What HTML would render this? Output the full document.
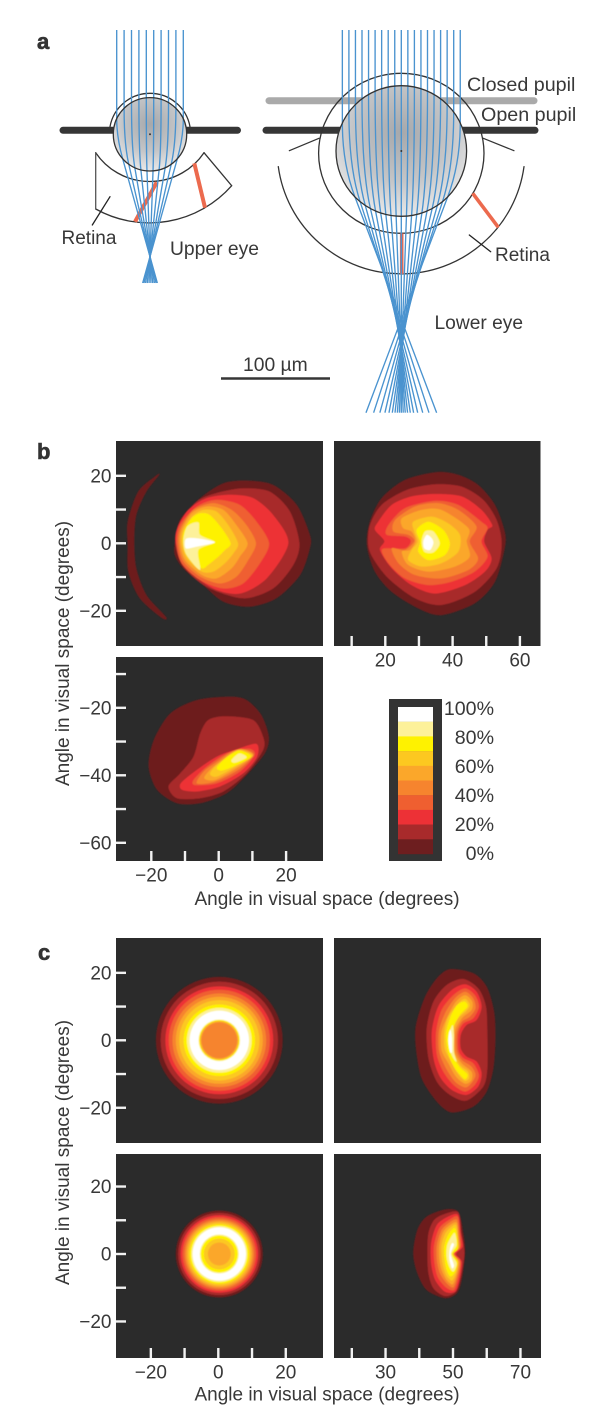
<!DOCTYPE html>
<html lang="en">
<head>
<meta charset="utf-8">
<title>Visual fields of upper and lower eyes</title>
<style>
html,body{margin:0;padding:0;background:#fff;}
svg{display:block;}
text{font-family:"Liberation Sans",sans-serif;fill:#383838;font-size:19px;}
.letter{font-weight:bold;font-size:22px;fill:#333;stroke:#333;stroke-width:.6px;}
</style>
</head>
<body>
<svg id="figure" xmlns="http://www.w3.org/2000/svg" width="600" height="1428" viewBox="0 0 600 1428">
<defs>
<radialGradient id="lensShade" cx="0.5" cy="0.36" r="0.68">
<stop offset="0" stop-color="#a6a8ab"/>
<stop offset="0.55" stop-color="#c4c5c7"/>
<stop offset="1" stop-color="#eeeeee"/>
</radialGradient>
<filter id="soft" x="-5%" y="-5%" width="110%" height="110%"><feGaussianBlur stdDeviation="0.55"/></filter>
</defs>

<text class="letter" x="37" y="49">a</text>
<text class="letter" x="37" y="459">b</text>
<text class="letter" x="38" y="960">c</text>

<g id="eye-diagram" fill="none" stroke-linecap="round">
  <line x1="63" y1="130.3" x2="237.5" y2="130.3" stroke="#363636" stroke-width="7"/>
  <line x1="269" y1="100.7" x2="534" y2="100.7" stroke="#aaaaaa" stroke-width="7"/>
  <line x1="266" y1="130.3" x2="535" y2="130.3" stroke="#363636" stroke-width="7"/>

  <path d="M110 126.7A40.66 40.66 0 0 1 190 126.7" stroke="#333" stroke-width="1.3"/>
  <path d="M95.7 152.7A65.3 65.3 0 0 0 204 152.7" stroke="#333" stroke-width="1.3"/>
  <path d="M95.7 209A110 110 0 0 0 231.7 185.7L204 152.7" stroke="#333" stroke-width="1.3"/>
  <line x1="95.7" y1="152.7" x2="95.7" y2="209" stroke="#555" stroke-width="1.3"/>
  <line x1="194.3" y1="163.3" x2="205" y2="207.7" stroke="#ec6a4e" stroke-width="4" stroke-linecap="butt"/>
  <line x1="156.7" y1="182.3" x2="135" y2="221.7" stroke="#ec6a4e" stroke-width="4" stroke-linecap="butt"/>
  <line x1="110" y1="196.7" x2="92.3" y2="225" stroke="#222" stroke-width="1.3"/>
  <circle cx="150" cy="134.3" r="36.7" fill="url(#lensShade)"/>

  <ellipse cx="401.3" cy="153.3" rx="82.7" ry="80" stroke="#333" stroke-width="1.3"/>
  <path d="M319 138.3L289.3 150.7M483.3 138.3L514 150.7" stroke="#333" stroke-width="1.2"/>
  <path d="M278.3 166.7A124 124 0 0 0 524 166.7" stroke="#333" stroke-width="1.3"/>
  <line x1="472.7" y1="193.3" x2="498.3" y2="227.3" stroke="#ec6a4e" stroke-width="3.6" stroke-linecap="butt"/>
  <line x1="401.7" y1="233.3" x2="401.7" y2="274" stroke="#dc6b5a" stroke-width="3.6" stroke-linecap="butt"/>
  <line x1="469.3" y1="235" x2="490.7" y2="251.7" stroke="#222" stroke-width="1.3"/>
  <circle cx="401.3" cy="151" r="65.3" fill="url(#lensShade)"/>

  <g id="rays"></g>

  <circle cx="150" cy="134.3" r="36.7" stroke="#333" stroke-width="1.3"/>
  <circle cx="401.3" cy="151" r="65.3" stroke="#333" stroke-width="1.3"/>
  <circle cx="150" cy="134.3" r="1" fill="#333"/>
  <circle cx="401.3" cy="151" r="1" fill="#333"/>
  <line x1="221" y1="378.5" x2="330" y2="378.5" stroke="#363636" stroke-width="2.6" stroke-linecap="butt"/>
</g>

<text x="61.5" y="244">Retina</text>
<text x="170" y="255" style="font-size:19.3px">Upper eye</text>
<text x="495" y="261">Retina</text>
<text x="434.5" y="329" style="font-size:19.2px">Lower eye</text>
<text x="467" y="91" style="font-size:19.7px">Closed pupil</text>
<text x="481" y="121" style="font-size:19.7px">Open pupil</text>
<text x="243" y="371" style="font-size:19.3px">100 µm</text>

<g id="charts"></g>

<text x="327" y="905" text-anchor="middle">Angle in visual space (degrees)</text>
<text x="327" y="1400.5" text-anchor="middle">Angle in visual space (degrees)</text>
<text transform="translate(69 653.5) rotate(-90)" text-anchor="middle">Angle in visual space (degrees)</text>
<text transform="translate(69 1152.5) rotate(-90)" text-anchor="middle">Angle in visual space (degrees)</text>
</svg>

<script>
// Sensitivity band colours, lowest band first
const bandColors = ['#6d1e1f','#a82a2b','#ed3136','#ef5f30','#f6842e','#fba72a','#fcc820','#fef200','#fdf19a','#ffffff'];

// Legend
const legendBands = [9,8,7,6,5,4,3,2,1,0];
const legendLabels = ['100%','80%','60%','40%','20%','0%'];

// Tick values (degrees)
const b1YTicks = [20,10,0,-10,-20];
const b1YLabels = [20,0,-20];
const b2XTicks = [10,20,30,40,50,60];
const b2XLabels = [20,40,60];
const b3YTicks = [-10,-20,-30,-40,-50,-60];
const b3YLabels = [-20,-40,-60];
const b3XTicks = [-20,-10,0,10,20];
const b3XLabels = [-20,0,20];
const c1YTicks = [20,10,0,-10,-20];
const c1YLabels = [20,0,-20];
const c3YTicks = [20,10,0,-10,-20];
const c3YLabels = [20,0,-20];
const c3XTicks = [-20,-10,0,10,20];
const c3XLabels = [-20,0,20];
const c4XTicks = [20,30,40,50,60,70];
const c4XLabels = [30,50,70];

// Panel b, top left: contours in degrees, band 0 upward
const b1FarArc = [[-17.6,20.3],[-21.4,15.3],[-24.4,8.4],[-25,.5],[-24.4,-7.4],[-21.4,-15.3],[-15.6,-21.8],[-16.9,-22.1],[-23.4,-16.3],[-26.8,-8.4],[-27,-.5],[-27,6.4],[-23.9,15.3],[-18.9,19.8]];
const b1Contours = [
[[-13,0],[-11.5,6.9],[-5.5,13.4],[1.4,17.8],[8.3,18.6],[16.2,17.3],[23.2,11.4],[27.1,2.5],[27.1,-1.5],[24.2,-9.4],[17.2,-16.3],[9.3,-18.8],[1.4,-17.3],[-4.6,-12.4],[-10.5,-7.4],[-13,-3.5]],
[[24,0],[21.2,9.4],[15.2,15.3],[7.3,16.3],[-.6,14.9],[-6.5,12.4],[-11.5,5.9],[-12.9,0],[-10.5,-6.9],[-3.6,-12.9],[7.3,-16.3],[16.2,-13.4],[22.2,-6.4]],
[[20.7,0],[16.2,8.4],[10.3,13.4],[3.4,14.4],[-3.6,13.4],[-9,9.9],[-12.3,4.5],[-12.7,0],[-9.5,-7.4],[-1.6,-13.4],[6.3,-14.9],[14.3,-10.4]],
[[15,0],[11.3,6.4],[6.3,11.4],[-.6,12.9],[-6.5,10.9],[-11.5,5.4],[-12.5,0],[-11,-5.9],[-5.5,-10.9],[1.4,-13.4],[7.3,-11.9],[12.3,-5.9]],
[[11.1,0],[8.3,5.4],[3.9,9.9],[-1.6,11.9],[-7.5,9.9],[-11.3,4.5],[-12,0],[-10.5,-5.4],[-5.5,-9.9],[.4,-11.9],[5.3,-9.9],[8.8,-5]],
[[8.6,0],[5.3,5.4],[1.4,9.9],[-3.6,10.9],[-8,8.9],[-11,4],[-11.5,0],[-10,-5],[-5,-9.4],[-.6,-10.4],[3.9,-7.4],[6.3,-4]],
[[5.8,0],[2.9,5.4],[-.6,9.4],[-4.6,9.9],[-8,7.9],[-10.5,4],[-11,0],[-9.5,-4.5],[-5,-8.4],[-1.6,-8.4],[1.9,-5.9],[4.4,-3]],
[[3.6,0],[.9,4.5],[-2.6,8.4],[-5.5,8.9],[-8,7.4],[-10.3,3.5],[-10.5,0],[-9,-4],[-5,-7.4],[-3.1,-6.4],[-.1,-4],[1.9,-2]],
[[-1.1,.3],[-5.5,2.5],[-6,6.2],[-9.3,5],[-10.5,.5],[-9.5,-3.5],[-5.5,-7.9],[-6,-2]],
[[-1.1,.3],[-6.5,1.5],[-9.7,1.3],[-9.7,-1.5],[-6.5,-1]]
];

// Panel b, top right
const b2Contours = [
[[35.2,21.1],[41.7,20.3],[47.6,17.3],[52.6,11.4],[55.5,3.5],[55.5,-1.5],[52.6,-11.4],[46.6,-17.8],[36.7,-21.3],[29.8,-19.3],[21.9,-14.4],[16.9,-8.4],[14.5,-.5],[15.4,6.4],[18.9,13.4],[25.8,18.8]],
[[34.8,17.5],[42.7,16.8],[49.1,12.9],[53.1,6.9],[54.6,0],[53.1,-7.4],[46.6,-14.4],[36.7,-18.3],[28.8,-16.3],[20.9,-10.4],[16.4,-4.5],[14.9,-.5],[15.4,5.4],[18.9,11.4],[26.3,15.8]],
[[17.9,6.4],[21.9,11.4],[27.8,13.9],[34.8,14.6],[42.7,13.9],[48.6,9.9],[51.8,5.4],[50.4,4],[49.4,.5],[51.6,-4.5],[49.6,-8.4],[43.7,-12.4],[34.8,-14.9],[27.8,-12.4],[21.9,-7.4],[18.4,-2],[19.7,.7],[16.9,4]],
[[20.9,5.4],[25.8,10.4],[34.8,12.6],[41.7,11.4],[48.6,6.4],[50.4,4.5],[48.6,.5],[50.4,-4],[46.6,-8.4],[39.7,-11.4],[32.8,-12.4],[25.8,-10.4],[20.9,-5.9],[19.1,-1.7],[25.8,-1.5],[27.6,.7],[25.8,2],[20.4,2.5]],
[[22.9,6.9],[28.8,10.9],[35.7,11.9],[41.7,9.9],[47.1,5],[45.1,.5],[47.6,-4.5],[44.7,-7.9],[36.7,-10.4],[28.8,-9.4],[23.9,-5.9],[21.9,-1.5],[25.8,-2],[28.6,.7],[26.8,2.5],[22.4,3.5]],
[[24.9,7.4],[30.8,9.9],[36.7,9.9],[44.7,4.5],[44.2,.5],[45.1,-4],[40.7,-6.9],[32.8,-8.4],[26.8,-6.4],[24.9,-2.5],[27.3,-2],[29,.7],[27.8,3.5],[25.3,4.5]],
[[28.3,6.4],[33.8,7.9],[38.7,5.9],[42.2,2.5],[41.7,-2.5],[36.7,-5.9],[30.8,-6.9],[26.8,-5],[27.8,-2],[29.6,.5],[28.6,3.5]],
[[29.3,4],[32.8,6.4],[37.2,4],[39.2,0],[37.7,-3.5],[32.8,-5],[29.8,-2.5],[30.3,.5]],
[[31.8,3.5],[34.3,3.5],[36.2,0],[34.3,-2.7],[31.6,-2.5],[30.8,.5]],
[[32.3,2.5],[33.8,1.5],[34.3,0],[33.3,-2],[31.6,-1.5],[31.3,.5]]
];

// Panel b, lower left
const b3Contours = [
[[3.3,-16.7],[8.3,-17.7],[12.7,-22.2],[14.9,-28.6],[13.7,-33.5],[8.3,-39.9],[2.4,-45.3],[-5.5,-48.3],[-12.4,-48.3],[-18.3,-44.3],[-20.8,-37.4],[-19.3,-29.6],[-14.4,-21.7],[-6.5,-17.7]],
[[1.9,-22.5],[10.2,-23.6],[13.2,-28.6],[13.2,-32.5],[8.3,-39.4],[1.4,-44.8],[-5.5,-46.8],[-12.4,-46.8],[-14.9,-43.3],[-11.4,-39.4],[-7.5,-34.5],[-5.5,-27.6],[-3.1,-23.6]],
[[11.2,-30.7],[11.4,-34.5],[7.3,-39.4],[.4,-43.3],[-6.5,-44.8],[-10.9,-44.3],[-11.2,-42.3],[-6.5,-38.4],[-.6,-34.5],[5.3,-32.3]],
[[8.8,-32.1],[10.7,-34],[6.3,-38.9],[-.6,-42.4],[-7,-42.9],[-7.5,-41.4],[-3.5,-37.4],[2.4,-33.5]],
[[7.3,-32.2],[10.4,-34],[5.8,-38.4],[-1.1,-41.9],[-6.5,-42.4],[-4.5,-38.9],[-.6,-36],[3.8,-33]],
[[6.8,-32.3],[10.2,-34.1],[5.3,-37.9],[-1.1,-41.4],[-4.3,-40.9],[-2.6,-38.4],[.9,-35.5],[4.3,-33]],
[[6.3,-32.5],[10,-34.3],[4.8,-37.6],[-.6,-40.4],[-2.6,-39.6],[-1.1,-37.4],[1.9,-35],[4.3,-33.3]],
[[6.3,-32.7],[9.5,-34.5],[4.3,-37.4],[.9,-38.6],[-.6,-37.9],[.9,-36],[3.3,-34]],
[[6.1,-33.5],[8.3,-34.7],[4.8,-36.3],[3.8,-35.5]]
];

// Panel c, ring model fields: radius in degrees and the band it shows
const c1RingCentre = [0.3, 0];
const c1RingRadii = [18.8,17.4,16,15,13.9,12.9,11.9,10.6,9.6,8.8,6.2,6,5.8,5.6,5.3];
const c1RingBands = [0,1,2,3,4,5,6,7,8,9,8,7,6,5,4];
const c3RingCentre = [0.3, 0];
const c3RingRadii = [12.9,12.2,11.5,10.9,10.3,9.8,9.3,8.8,8.3,7.9,5.8,5.5,4.6,3.4];
const c3RingBands = [0,1,2,3,4,5,6,7,8,9,8,7,6,5];

// Panel c, top right
const c2Contours = [
[[49.1,21.1],[56,19.9],[60,15.9],[62.2,8.5],[62.6,.6],[62,-8.3],[60,-15.2],[56,-19.7],[49.6,-21.4],[45.2,-18.2],[40.7,-11.3],[39,-2.4],[39,4.5],[41.7,12.9],[45.2,18.4]],
[[53,18.2],[57.5,15.4],[59.8,10],[60.2,1.6],[60.2,-8.3],[59,-13.7],[54,-17.9],[49.1,-16.2],[45.2,-12.3],[42.7,-5.3],[42.2,3.6],[44.2,11.5],[48.1,16.4]],
[[53.6,16.6],[57,14.4],[58.5,10],[57,6],[54,4.5],[52.3,1.6],[52.3,-2.4],[54,-4.8],[57,-6.3],[58.5,-9.8],[57.5,-13.7],[54,-16.2],[49.6,-14.7],[46.1,-10.8],[44.2,-5.3],[43.7,2.6],[45.6,10],[49.6,14.9]],
[[53.6,15.4],[56.5,13.4],[57.7,10],[56,6.5],[53.1,5],[51.6,2.1],[51.6,-2.9],[53.1,-5.3],[56,-6.8],[57.7,-10.3],[56.5,-13.2],[53.6,-15.2],[50.1,-13.2],[47.1,-9.3],[45.2,-4.3],[45,2.6],[46.6,9],[50.1,13.4]],
[[53.6,14.4],[56,12.5],[56.7,9.5],[55,7],[52.6,5.5],[51.1,2.1],[51.1,-2.9],[52.6,-5.8],[55.5,-7.8],[56.7,-10.3],[55.5,-12.7],[53.6,-14],[50.6,-12.3],[47.9,-8.3],[45.9,-3.4],[45.8,2.6],[47.6,8],[50.6,12.5]],
[[53.6,13.4],[55.7,11.5],[55.5,9],[52.6,6.5],[50.6,2.6],[50.6,-3.4],[52.6,-6.8],[55.5,-9.3],[55.5,-11.8],[53.6,-12.9],[50.9,-10.8],[48.6,-6.8],[46.6,-2.9],[46.6,2.6],[48.6,7.5],[50.9,11.5]],
[[53.6,12.3],[55,10.5],[54,8.7],[51.6,6.5],[50.3,3.1],[50.3,-3.4],[52.1,-7.3],[54.5,-9.3],[54.8,-11.3],[53.4,-12],[51.1,-9.5],[49.1,-5.8],[47.5,-2.4],[47.4,2.6],[48.6,7],[51.6,11]],
[[53.4,11.5],[54.3,10],[51.9,7.3],[49.9,3.1],[50.1,-4.3],[51.9,-7.8],[54.3,-10.1],[53.4,-11.5],[50.6,-8.3],[48.6,-3.9],[47.9,1.6],[49.1,6.5],[51.1,10.3]],
[[49.9,4.5],[50.3,1.6],[50.3,-3.4],[51.1,-6.3],[50.1,-5.3],[48.9,-2.4],[48.8,1.6]],
[[49.3,3.1],[49.7,.6],[49.7,-3.4],[49.1,-3.4],[48.6,-.4],[48.8,2.1]]
];

// Panel c, lower right
const c4Contours = [
[[47.6,13.2],[51.6,12.5],[53.1,6.1],[53.6,.2],[52.6,-7.7],[51.1,-11.7],[47.6,-13.1],[42.2,-10.7],[39.4,-5.7],[38.2,.2],[39.4,7.1],[42.2,11.1]],
[[47.6,11.9],[51.6,12.3],[52.6,6.1],[53.4,.2],[52.4,-6.7],[50.9,-11.2],[47.6,-12.5],[44.2,-10.2],[42.7,-5.7],[42.4,.2],[42.7,6.1],[44.4,10.1]],
[[48.6,11.1],[51.5,11.6],[52.3,6.1],[52.9,2.2],[50.9,0],[52.6,-2.3],[51.9,-7.7],[50.6,-11.2],[47.6,-11.2],[44.7,-7.7],[43.5,-2.8],[43.5,3.2],[45.2,8.6]],
[[48.8,10.1],[51.4,11.1],[52.1,6.1],[52.3,2.2],[50.5,0],[52.3,-2.3],[51.6,-7.2],[50.3,-10.7],[47.9,-9.9],[45.4,-6.7],[44.4,-1.8],[44.4,2.7],[45.9,7.6]],
[[48.9,9.3],[51.2,10.1],[51.8,5.1],[52.1,2],[50.3,0],[52.1,-2.3],[51.3,-6.7],[50.1,-9.9],[48.1,-8.7],[46.1,-5.7],[45.2,-1.8],[45.2,2.7],[46.6,7.1]],
[[49.1,8.6],[51.1,9.3],[51.6,5.1],[51.7,1.7],[50.2,0],[51.7,-2.3],[51.1,-6.2],[49.9,-9],[48.1,-7.7],[46.6,-4.7],[45.9,-1.3],[45.9,2.7],[47.1,6.6]],
[[49.3,7.9],[50.9,8.6],[51.5,4.6],[51.5,1.7],[50.1,0],[51.5,-2.3],[50.9,-5.7],[49.7,-7.9],[48.1,-6.5],[47.1,-3.8],[46.6,-.8],[46.6,2.7],[47.7,6.1]],
[[49.6,7.1],[50.7,7.6],[51.3,4.2],[51.3,1.4],[49.9,0],[51.3,-2.3],[50.7,-5.2],[49.3,-6.7],[48.1,-4.7],[47.4,-.8],[47.4,2.2],[48.3,5.1]],
[[49.8,5.6],[50.6,6.1],[51.1,2.7],[49.6,0],[51.1,-2.8],[50.1,-5.2],[48.9,-3.8],[48.1,-.8],[48.3,2.7]],
[[49.7,3.2],[50.3,2.7],[49.3,0],[50.3,-3.3],[49.7,-4.2],[48.9,-1.3],[49.1,1.7]]
];

const SVGNS = 'http://www.w3.org/2000/svg';
const charts = document.getElementById('charts');

function axisX(frame, d){ return frame.xRefPx + (d - frame.xRefDeg) * frame.xScale; }
function axisY(frame, d){ return frame.yRefPx - (d - frame.yRefDeg) * frame.yScale; }

function fmt(v){ return String(v).replace('-', '\u2212'); }

function smoothClosed(points){
  const n = points.length, t = 0.14;
  let d = 'M' + points[0][0].toFixed(2) + ' ' + points[0][1].toFixed(2);
  for (let i = 0; i < n; i++){
    const p0 = points[(i - 1 + n) % n], p1 = points[i], p2 = points[(i + 1) % n], p3 = points[(i + 2) % n];
    const c1x = p1[0] + (p2[0] - p0[0]) * t, c1y = p1[1] + (p2[1] - p0[1]) * t;
    const c2x = p2[0] - (p3[0] - p1[0]) * t, c2y = p2[1] - (p3[1] - p1[1]) * t;
    d += 'C' + c1x.toFixed(2) + ' ' + c1y.toFixed(2) + ' ' + c2x.toFixed(2) + ' ' + c2y.toFixed(2) + ' ' + p2[0].toFixed(2) + ' ' + p2[1].toFixed(2);
  }
  return d + 'Z';
}

function addPanelBackground(frame){
  const g = document.createElementNS(SVGNS, 'g');
  
  
  charts.appendChild(g);
  const el = document.createElementNS(SVGNS, 'rect');
  
  
  el.setAttribute('x', frame.left);
  el.setAttribute('y', frame.top);
  el.setAttribute('width', frame.right - frame.left);
  el.setAttribute('height', frame.bottom - frame.top);
  el.setAttribute('fill', '#2b2b2b');
  g.appendChild(el);
  const marks = document.createElementNS(SVGNS, 'g');
  
  
  marks.setAttribute('filter', 'url(#soft)');
  g.appendChild(marks);
  return { g, marks };
}

function addContour(parent, frame, contour, band){
  const el = document.createElementNS(SVGNS, 'path');
  
  
  el.setAttribute('d', smoothClosed(contour.map(p => [axisX(frame, p[0]), axisY(frame, p[1])])));
  el.setAttribute('fill', bandColors[band]);
  parent.appendChild(el);
}

function addRings(parent, frame, centre, radii, bands){
  radii.forEach((r, i) => {
    const el = document.createElementNS(SVGNS, 'circle');
    
    
    el.setAttribute('cx', axisX(frame, centre[0]));
    el.setAttribute('cy', axisY(frame, centre[1]));
    el.setAttribute('r', r * frame.xScale);
    el.setAttribute('fill', bandColors[bands[i]]);
    parent.appendChild(el);
  });
}

function addYAxis(parent, frame, ticks, labels){
  ticks.forEach(v => {
    const el = document.createElementNS(SVGNS, 'line');
    
    
    el.setAttribute('x1', frame.left);
    el.setAttribute('x2', frame.left + 10);
    el.setAttribute('y1', axisY(frame, v));
    el.setAttribute('y2', axisY(frame, v));
    el.setAttribute('stroke', '#f2f2f2');
    el.setAttribute('stroke-width', '2.4');
    parent.appendChild(el);
  });
  labels.forEach(v => {
    const el = document.createElementNS(SVGNS, 'text');
    
    
    el.setAttribute('x', frame.left - 4.5);
    el.setAttribute('y', axisY(frame, v) + 6.7);
    el.setAttribute('text-anchor', 'end');
    el.textContent = fmt(v);
    parent.appendChild(el);
  });
}

function addXAxis(parent, frame, ticks, labels){
  ticks.forEach(v => {
    const el = document.createElementNS(SVGNS, 'line');
    
    
    el.setAttribute('x1', axisX(frame, v));
    el.setAttribute('x2', axisX(frame, v));
    el.setAttribute('y1', frame.bottom);
    el.setAttribute('y2', frame.bottom - 10);
    el.setAttribute('stroke', '#f2f2f2');
    el.setAttribute('stroke-width', '2.4');
    parent.appendChild(el);
  });
  labels.forEach(v => {
    const el = document.createElementNS(SVGNS, 'text');
    
    
    el.setAttribute('x', axisX(frame, v));
    el.setAttribute('y', frame.bottom + 20.5);
    el.setAttribute('text-anchor', 'middle');
    el.textContent = fmt(v);
    parent.appendChild(el);
  });
}

const frameB1 = {left:116,right:323,top:441,bottom:646,xRefPx:218.6,xRefDeg:0,xScale:3.37,yRefPx:543.3,yRefDeg:0,yScale:3.375};
const frameB2 = {left:334,right:540.5,top:441,bottom:646,xRefPx:385.3,xRefDeg:20,xScale:3.365,yRefPx:543.3,yRefDeg:0,yScale:3.375};
const frameB3 = {left:116,right:323,top:657,bottom:861,xRefPx:218.7,xRefDeg:0,xScale:3.37,yRefPx:775.3,yRefDeg:-40,yScale:3.375};
const frameC1 = {left:116,right:323,top:938,bottom:1143,xRefPx:218.3,xRefDeg:0,xScale:3.373,yRefPx:1040.3,yRefDeg:0,yScale:3.373};
const frameC2 = {left:334,right:541,top:938,bottom:1143,xRefPx:453,xRefDeg:50,xScale:3.373,yRefPx:1040.3,yRefDeg:0,yScale:3.373};
const frameC3 = {left:116,right:323,top:1154,bottom:1358,xRefPx:218.3,xRefDeg:0,xScale:3.373,yRefPx:1254,yRefDeg:0,yScale:3.373};
const frameC4 = {left:334,right:541,top:1154,bottom:1358,xRefPx:453,xRefDeg:50,xScale:3.373,yRefPx:1254,yRefDeg:0,yScale:3.373};

const pB1 = addPanelBackground(frameB1);
addContour(pB1.marks, frameB1, b1FarArc, 0);
b1Contours.forEach((c, i) => addContour(pB1.marks, frameB1, c, i));
addYAxis(pB1.g, frameB1, b1YTicks, b1YLabels);

const pB2 = addPanelBackground(frameB2);
b2Contours.forEach((c, i) => addContour(pB2.marks, frameB2, c, i));
addXAxis(pB2.g, frameB2, b2XTicks, b2XLabels);

const pB3 = addPanelBackground(frameB3);
b3Contours.forEach((c, i) => addContour(pB3.marks, frameB3, c, i));
addYAxis(pB3.g, frameB3, b3YTicks, b3YLabels);
addXAxis(pB3.g, frameB3, b3XTicks, b3XLabels);

const pC1 = addPanelBackground(frameC1);
addRings(pC1.marks, frameC1, c1RingCentre, c1RingRadii, c1RingBands);
addYAxis(pC1.g, frameC1, c1YTicks, c1YLabels);

const pC2 = addPanelBackground(frameC2);
c2Contours.forEach((c, i) => addContour(pC2.marks, frameC2, c, i));

const pC3 = addPanelBackground(frameC3);
addRings(pC3.marks, frameC3, c3RingCentre, c3RingRadii, c3RingBands);
addYAxis(pC3.g, frameC3, c3YTicks, c3YLabels);
addXAxis(pC3.g, frameC3, c3XTicks, c3XLabels);

const pC4 = addPanelBackground(frameC4);
c4Contours.forEach((c, i) => addContour(pC4.marks, frameC4, c, i));
addXAxis(pC4.g, frameC4, c4XTicks, c4XLabels);

// Legend colour bar
const legendGroup = document.createElementNS(SVGNS, 'g');


charts.appendChild(legendGroup);
const legendFrame = document.createElementNS(SVGNS, 'rect');


legendFrame.setAttribute('x', 389);
legendFrame.setAttribute('y', 699);
legendFrame.setAttribute('width', 53);
legendFrame.setAttribute('height', 162);
legendFrame.setAttribute('fill', '#333333');
legendGroup.appendChild(legendFrame);
const legendStep = 14.7;
legendBands.forEach((band, i) => {
  const el = document.createElementNS(SVGNS, 'rect');
  
  
  el.setAttribute('x', 398);
  el.setAttribute('y', 707 + i * legendStep);
  el.setAttribute('width', 35);
  el.setAttribute('height', legendStep + 0.2);
  el.setAttribute('fill', bandColors[band]);
  legendGroup.appendChild(el);
});
legendLabels.forEach((label, i) => {
  const el = document.createElementNS(SVGNS, 'text');
  
  
  el.setAttribute('x', 494);
  el.setAttribute('y', 714.8 + i * 29);
  el.setAttribute('text-anchor', 'end');
  el.setAttribute('style', 'font-size:19.6px');
  el.textContent = label;
  legendGroup.appendChild(el);
});

// Light rays through the two lenses (schematic geometry)
const raysGroup = document.getElementById('rays');
function addRay(cx, cy, R, offset, k, focusY, topY, endY){
  const x0 = cx + offset;
  const ex = cx + offset * k;
  const ey = cy + Math.sqrt(Math.max(0, R * R - (offset * k) * (offset * k)));
  const ctrlY = focusY - (focusY - ey) / k;
  const endX = cx + (ex - cx) * (focusY - endY) / (focusY - ey);
  const el = document.createElementNS(SVGNS, 'path');
  
  
  const entryY = Math.min(ctrlY - 8, cy - Math.sqrt(Math.max(0, R * R - offset * offset)));
  el.setAttribute('d', 'M' + x0.toFixed(2) + ' ' + topY + 'L' + x0.toFixed(2) + ' ' + entryY.toFixed(2) +
    'Q' + x0.toFixed(2) + ' ' + ctrlY.toFixed(2) + ' ' + ex.toFixed(2) + ' ' + ey.toFixed(2) +
    'L' + endX.toFixed(2) + ' ' + endY);
  el.setAttribute('stroke', '#4a93cf');
  el.setAttribute('stroke-width', '1.35');
  el.setAttribute('stroke-linecap', 'butt');
  el.setAttribute('fill', 'none');
  raysGroup.appendChild(el);
}
for (let i = 0; i < 10; i++){
  addRay(150, 134.3, 36.7, (i - 4.5) * 7.4, 0.82, 256.7, 30, 283);
}
for (let i = 0; i < 19; i++){
  const o = (i - 9) * 6.55;
  const focus = 360 - 40 * (o / 58.5) * (o / 58.5);
  addRay(401.3, 151, 65.3, o, 0.786, focus, 30, 412.7);
}
</script>
</body>
</html>
